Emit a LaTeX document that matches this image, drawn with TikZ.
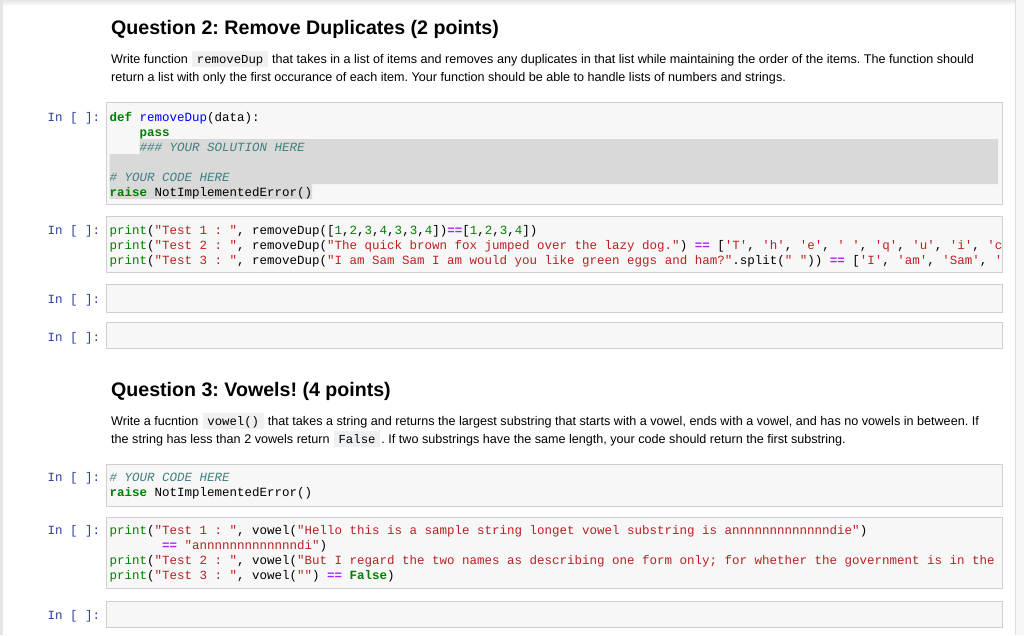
\documentclass[tikz,border=0pt]{standalone}
\usepackage{fontspec}
\setmainfont{Liberation Sans}
\setmonofont{Liberation Mono}
\usetikzlibrary{positioning}
\frenchspacing

\definecolor{kwgreen}{HTML}{008000}
\definecolor{strred}{HTML}{BA2121}
\definecolor{oppurple}{HTML}{AA22FF}
\definecolor{cmteal}{HTML}{408080}
\definecolor{fnblue}{HTML}{0000FF}
\definecolor{promptblue}{HTML}{303F9F}
\definecolor{cellfill}{HTML}{F7F7F7}
\definecolor{cellborder}{HTML}{CFCFCF}
\definecolor{selgray}{HTML}{D9D9D9}
\definecolor{inlinebg}{HTML}{EFF0F1}

% python highlighting
\newcommand\pyk[1]{\textcolor{kwgreen}{\bfseries #1}}
\newcommand\pyb[1]{\textcolor{kwgreen}{#1}}
\newcommand\pyn[1]{\textcolor{kwgreen}{#1}}
\newcommand\pys[1]{\textcolor{strred}{#1}}
\newcommand\pyo[1]{\textcolor{oppurple}{\bfseries #1}}
\newcommand\pyc[1]{\textcolor{cmteal}{\itshape #1}}
\newcommand\pyf[1]{\textcolor{fnblue}{#1}}

\tikzset{
  prompt/.style={anchor=base west, inner sep=0pt, text=promptblue,
    font=\ttfamily\fontsize{12.5}{15}\selectfont},
  codeln/.style={anchor=base west, inner sep=0pt,
    font=\ttfamily\fontsize{12.5}{15}\selectfont},
  cell/.style={draw=cellborder, fill=cellfill, line width=0.8pt},
  title/.style={anchor=base west, inner sep=0pt,
    font=\bfseries\fontsize{19.6}{24}\selectfont},
  para/.style={anchor=base west, inner sep=0pt,
    font=\fontsize{12.6}{18}\selectfont},
  inl/.style={fill=inlinebg, inner xsep=4.5pt, inner ysep=2.5pt,
    text height=10pt, text depth=1pt,
    font=\ttfamily\fontsize{12.3}{15}\selectfont}
}

\begin{document}
\begin{tikzpicture}[x=1pt,y=-1pt]
  \useasboundingbox (0,0) rectangle (1024,635);
  \fill[white] (0,0) rectangle (1024,635);
  \shade[top color=black!10, bottom color=white] (0,0) rectangle (1024,6);
  \fill[black!10] (0,0) rectangle (2.5,635);
  \fill[black!3] (1015,0) rectangle (1024,635);
  \draw[black!13] (1015,0) -- (1015,635);

  % Question 2
  \node[title] (q2title) at (111,34.5) {Question 2: Remove Duplicates (2 points)};
  \node[para] (q2a) at (111,63) {Write function};
  \node[inl, base right=4pt of q2a] (q2code) {removeDup};
  \node[para, base right=4pt of q2code] (q2b) {that takes in a list of items and removes any duplicates in that list while maintaining the order of the items. The function should};
  \node[para] (q2c) at (111,81) {return a list with only the first occurance of each item. Your function should be able to handle lists of numbers and strings.};

  \draw[cell] (106,102) rectangle (1002,204);
  \fill[selgray] (139.5,139) -- (998,139) -- (998,184) -- (312,184)
    -- (312,199) -- (109.5,199) -- (109.5,154) -- (139.5,154) -- cycle;
  \node[prompt] (p1) at (47.5,121) {In [ ]:};
  \node[codeln] (c1l1) at (109.5,121) {\pyk{def} \pyf{removeDup}(data):};
  \node[codeln] (c1l2) at (139.5,136) {\pyk{pass}};
  \node[codeln] (c1l3) at (139.5,151) {\pyc{\#\#\# YOUR SOLUTION HERE}};
  \node[codeln] (c1l5) at (109.5,181) {\pyc{\# YOUR CODE HERE}};
  \node[codeln] (c1l6) at (109.5,196) {\pyk{raise} NotImplementedError()};

  \draw[cell] (106,216) rectangle (1002,272);
  \node[prompt] (p2) at (47.5,234) {In [ ]:};
  \begin{scope}
    \clip (106,216) rectangle (1001.5,272);
    \node[codeln] (c2l1) at (109.5,234) {\pyb{print}(\pys{"Test 1 : "}, removeDup([\pyn{1},\pyn{2},\pyn{3},\pyn{4},\pyn{3},\pyn{3},\pyn{4}])\pyo{==}[\pyn{1},\pyn{2},\pyn{3},\pyn{4}])};
    \node[codeln] (c2l2) at (109.5,249) {\pyb{print}(\pys{"Test 2 : "}, removeDup(\pys{"The quick brown fox jumped over the lazy dog."}) \pyo{==} [\pys{'T'}, \pys{'h'}, \pys{'e'}, \pys{' '}, \pys{'q'}, \pys{'u'}, \pys{'i'}, \pys{'c}};
    \node[codeln] (c2l3) at (109.5,264) {\pyb{print}(\pys{"Test 3 : "}, removeDup(\pys{"I am Sam Sam I am would you like green eggs and ham?"}.split(\pys{" "})) \pyo{==} [\pys{'I'}, \pys{'am'}, \pys{'Sam'}, \pys{'}};
  \end{scope}

  \draw[cell] (106,284) rectangle (1002,312);
  \node[prompt] (p3) at (47.5,303) {In [ ]:};
  \draw[cell] (106,322) rectangle (1002,348);
  \node[prompt] (p4) at (47.5,341) {In [ ]:};

  % Question 3
  \node[title] (q3title) at (111,396) {Question 3: Vowels! (4 points)};
  \node[para] (q3a) at (111,425) {Write a fucntion};
  \node[inl, base right=4pt of q3a] (q3code) {vowel()};
  \node[para, base right=4pt of q3code] (q3b) {that takes a string and returns the largest substring that starts with a vowel, ends with a vowel, and has no vowels in between. If};
  \node[para] (q3c) at (111,443) {the string has less than 2 vowels return};
  \node[inl, base right=4pt of q3c] (q3false) {False};
  \node[para, base right=1pt of q3false] (q3d) {. If two substrings have the same length, your code should return the first substring.};

  \draw[cell] (106,464) rectangle (1002,506);
  \node[prompt] (p5) at (47.5,481) {In [ ]:};
  \node[codeln] (c5l1) at (109.5,481) {\pyc{\# YOUR CODE HERE}};
  \node[codeln] (c5l2) at (109.5,496) {\pyk{raise} NotImplementedError()};

  \draw[cell] (106,517) rectangle (1002,588);
  \node[prompt] (p6) at (47.5,534) {In [ ]:};
  \begin{scope}
    \clip (106,517) rectangle (1001.5,588);
    \node[codeln] (c6l1) at (109.5,534) {\pyb{print}(\pys{"Test 1 : "}, vowel(\pys{"Hello this is a sample string longet vowel substring is annnnnnnnnnnnndie"})};
    \node[codeln] (c6l2) at (109.5,549) {\phantom{xxxxxxx}\pyo{==} \pys{"annnnnnnnnnnnndi"})};
    \node[codeln] (c6l3) at (109.5,564) {\pyb{print}(\pys{"Test 2 : "}, vowel(\pys{"But I regard the two names as describing one form only; for whether the government is in the}};
    \node[codeln] (c6l4) at (109.5,579) {\pyb{print}(\pys{"Test 3 : "}, vowel(\pys{""}) \pyo{==} \pyk{False})};
  \end{scope}

  \draw[cell] (106,601) rectangle (1002,627);
  \node[prompt] (p7) at (47.5,619) {In [ ]:};
\end{tikzpicture}
\end{document}
